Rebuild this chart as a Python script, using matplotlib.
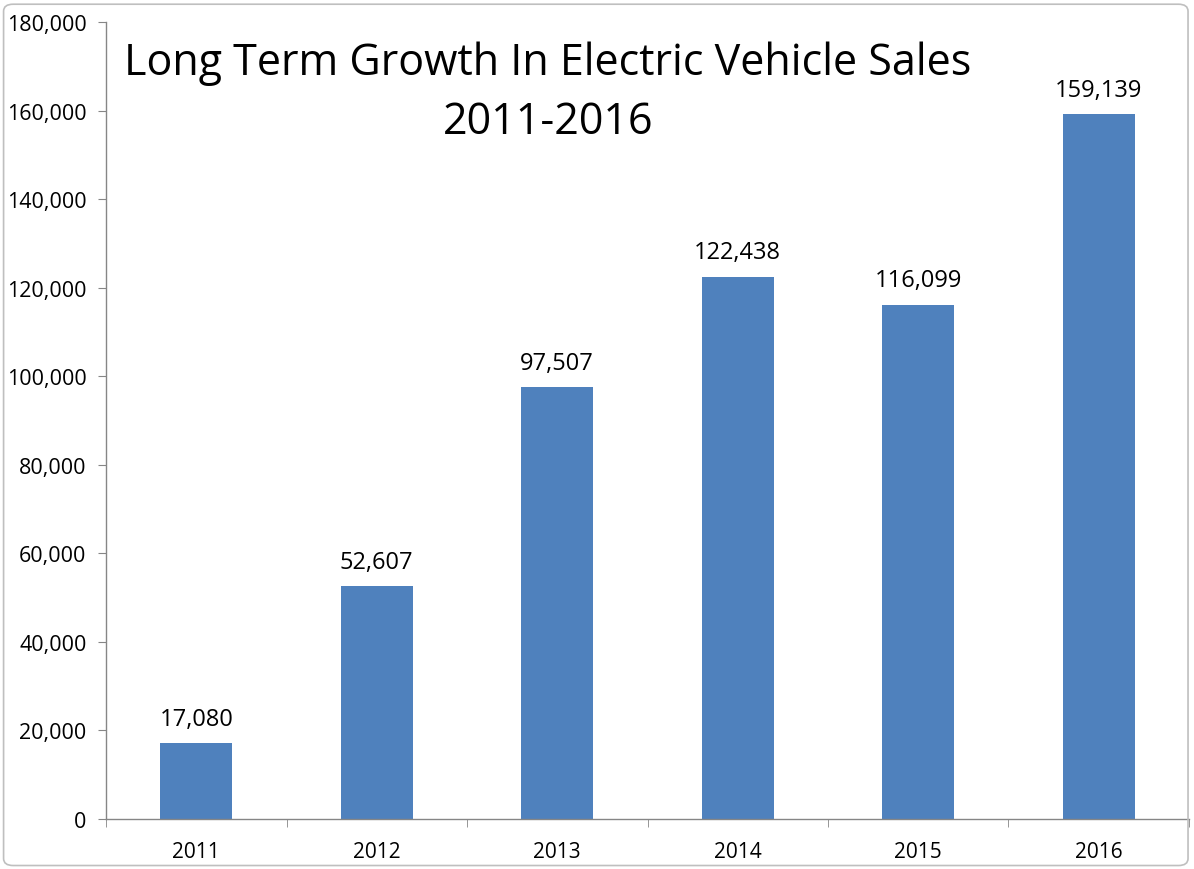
import matplotlib.pyplot as plt
from matplotlib.patches import FancyBboxPatch
from matplotlib.ticker import FuncFormatter, MultipleLocator

years = ["2011", "2012", "2013", "2014", "2015", "2016"]
sales = [17080, 52607, 97507, 122438, 116099, 159139]

plt.rcParams['font.family'] = ['Open Sans', 'DejaVu Sans']

fig = plt.figure(figsize=(11.94, 8.7), dpi=100)
ax = fig.add_axes([0.0888, 0.0575, 0.9070, 0.9161])

x = list(range(len(years)))
ax.bar(x, sales, width=0.4, color='#4F81BD', zorder=2)
for xi, v in zip(x, sales):
    ax.annotate("{:,}".format(v), (xi, v), xytext=(0, 9), textcoords='offset points',
                ha='center', va='bottom', fontsize=17)

ax.set_xlim(-0.5, len(years) - 0.5)
ax.set_ylim(0, 180000)
ax.yaxis.set_major_locator(MultipleLocator(20000))
ax.yaxis.set_major_formatter(FuncFormatter(lambda v, p: "{:,}".format(int(v))))
ax.set_xticks(x)
ax.set_xticklabels(years)
ax.set_xticks([i - 0.5 for i in range(len(years) + 1)], minor=True)

for s in ['top', 'right']:
    ax.spines[s].set_visible(False)
for s in ['left', 'bottom']:
    ax.spines[s].set_color('#868686')
    ax.spines[s].set_linewidth(1)
ax.tick_params(axis='y', direction='out', length=6, color='#868686', labelsize=15.5, pad=8)
ax.tick_params(axis='x', which='major', length=0, labelsize=15, pad=16)
ax.tick_params(axis='x', which='minor', direction='out', length=6, color='#868686')

fig.text(0.459, 0.893, "Long Term Growth In Electric Vehicle Sales\n2011-2016",
         ha='center', va='center', fontsize=31, linespacing=1.45)

frame = FancyBboxPatch((0.003, 0.004), 0.992, 0.99, boxstyle="round,pad=0,rounding_size=0.008",
                       transform=fig.transFigure, fill=False, edgecolor='#BFBFBF', linewidth=1.2)
fig.patches.append(frame)

fig.savefig("out.png", dpi=100)
